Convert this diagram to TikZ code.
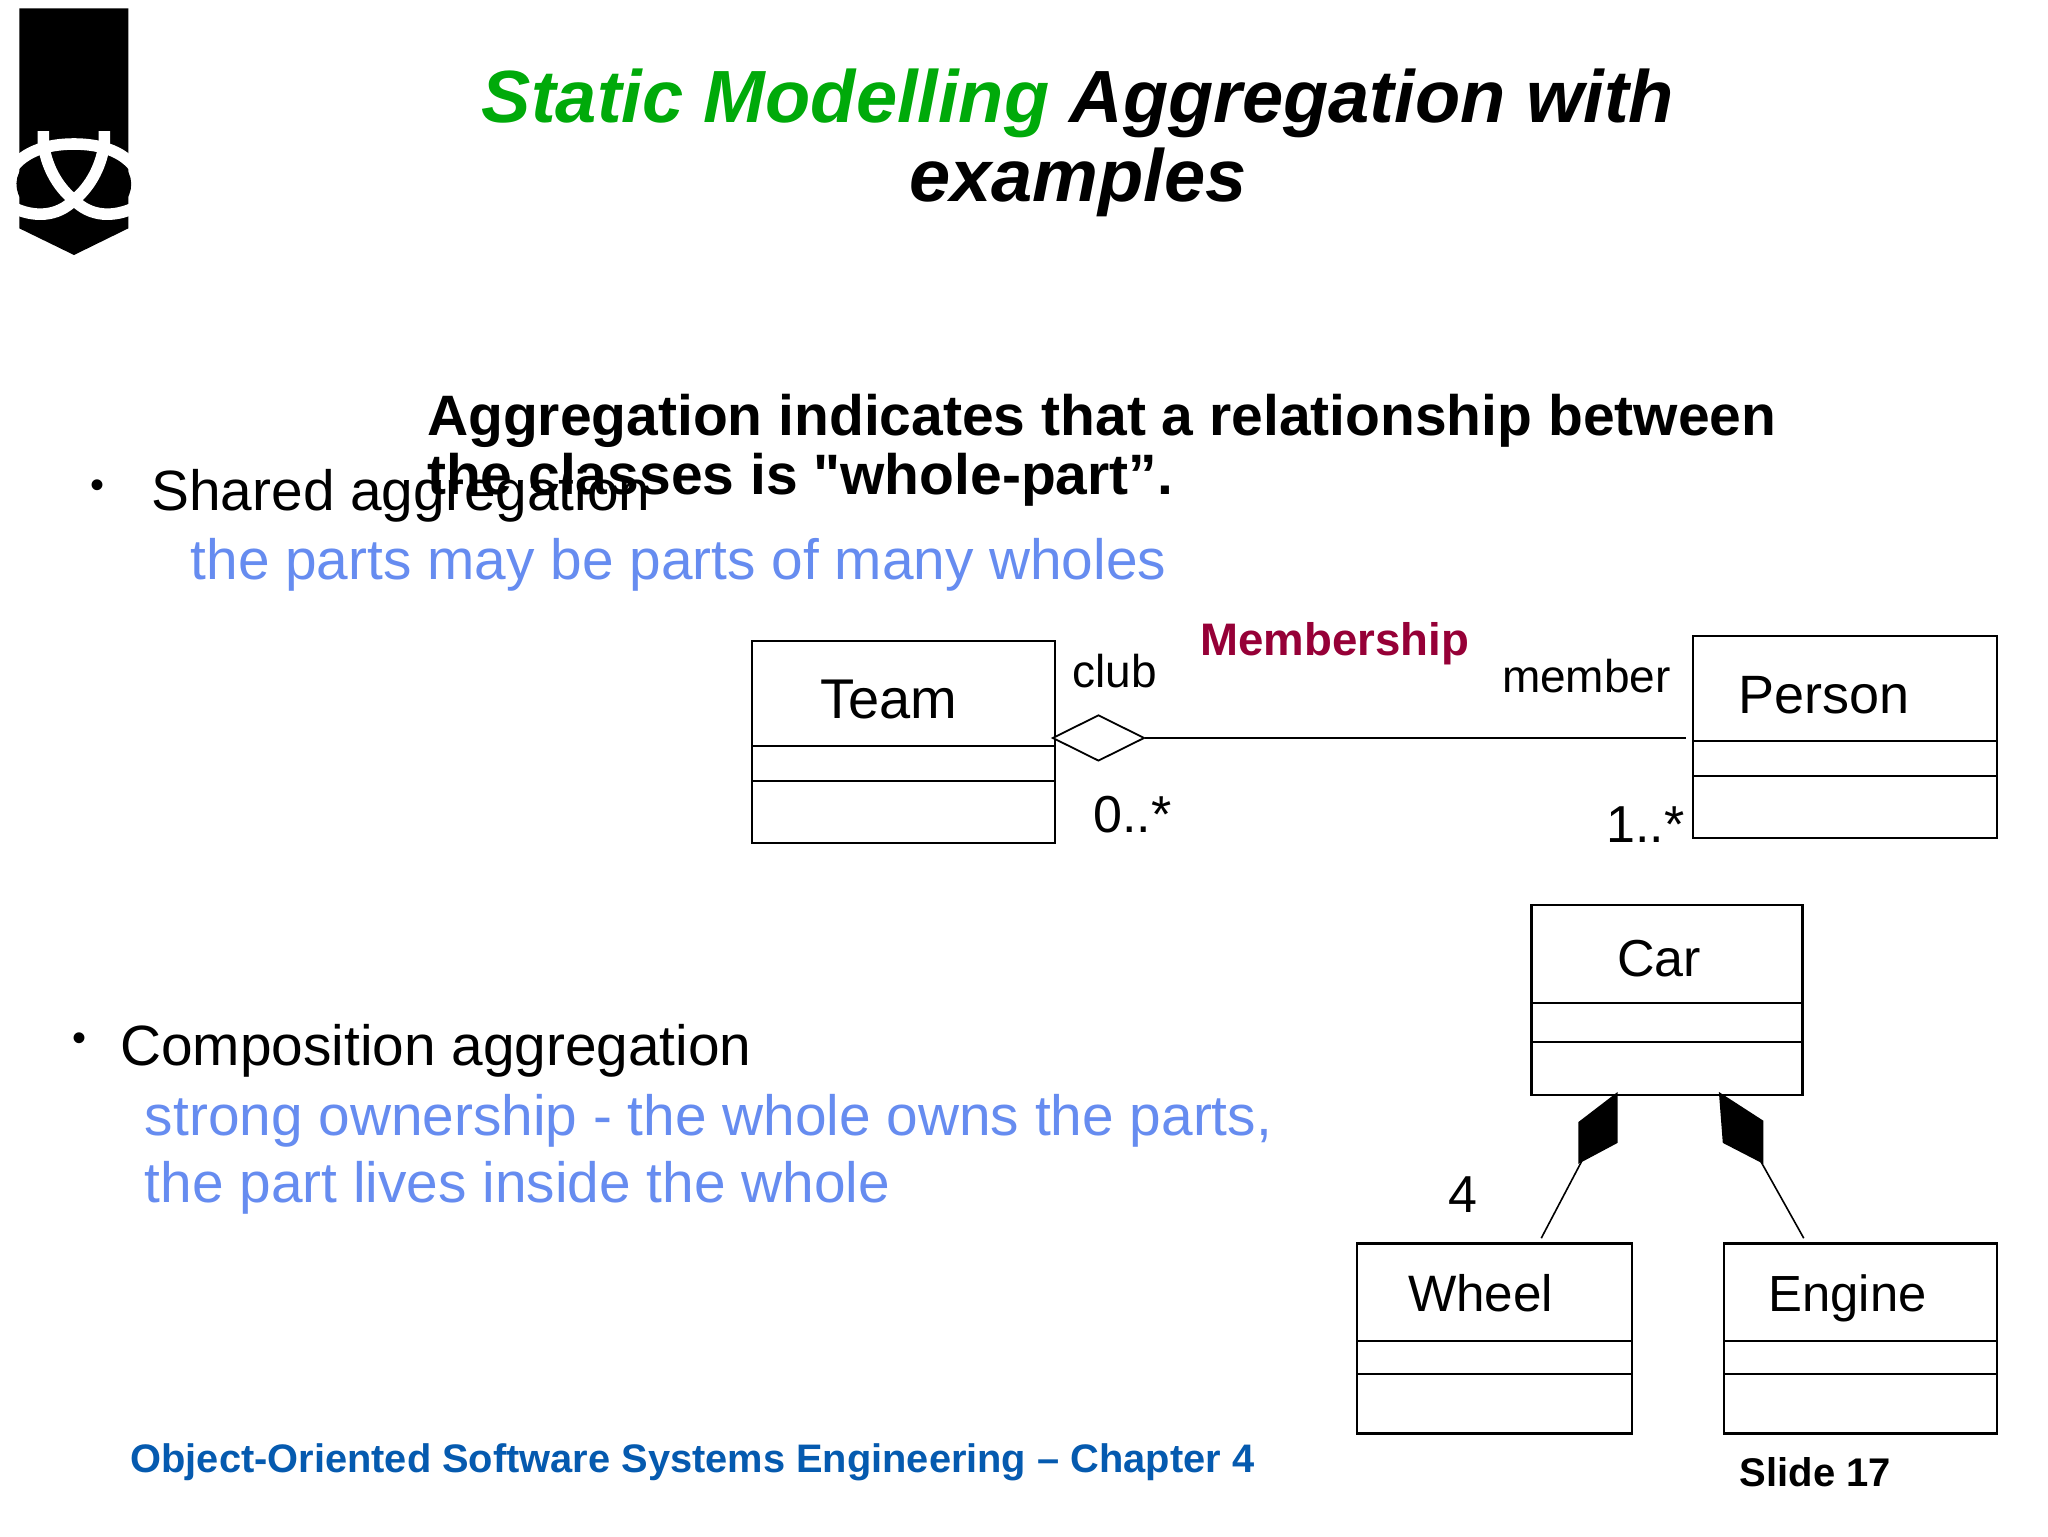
\documentclass[tikz,border=0pt]{standalone}
\usepackage{fontspec}
\setmainfont{Liberation Sans}
\newfontfamily\headfont{Liberation Sans}
\usetikzlibrary{shapes.geometric}
\definecolor{titlegreen}{RGB}{0,170,10}
\definecolor{subblue}{RGB}{102,140,240}
\definecolor{footblue}{RGB}{5,90,175}
\definecolor{memred}{RGB}{150,0,55}
\newcommand{\fs}[1]{\fontsize{#1}{#1}\selectfont}
\tikzset{
 txt/.style={inner sep=0pt,outer sep=0pt,anchor=base west,text depth=0pt},
 classbox/.style={draw=black,line width=1.1pt,inner sep=0pt,outer sep=0pt,anchor=north west,fill=white},
 compline/.style={draw=black,line width=1pt},
 conn/.style={draw=black,line width=0.8pt},
 titletxt/.style={txt,font=\fs{37}\bfseries\itshape},
 headtxt/.style={txt,font=\headfont\fs{28.5}\bfseries},
 bodytxt/.style={txt,font=\fs{28.4}},
 bullettxt/.style={txt,font=\fs{20}},
 subtxt/.style={txt,font=\fs{28.4},text=subblue},
 labeltxt/.style={txt,font=\fs{23}},
 multtxt/.style={txt,font=\fs{26}},
}
\begin{document}
\begin{tikzpicture}[x=0.65306pt,y=-0.65306pt]
\useasboundingbox[fill=white] (0,0) rectangle (1568,1176);
% logo
\begin{scope}[x=0.16667pt,y=-0.16667pt]
\fill[black] (58,25) -- (385,25) -- (385,685) -- (222,765) -- (58,685) -- cycle;
\fill[black] (80,490) .. controls (40,520) and (40,580) .. (75,612) -- (100,612) -- (100,490) -- cycle;
\fill[black] (363,490) .. controls (403,520) and (403,580) .. (368,612) -- (340,612) -- (340,490) -- cycle;
\draw[white,line width=5.8pt] (130,393) -- (130,425) .. controls (135,490) and (170,560) .. (222,600) .. controls (270,650) and (340,655) .. (410,620);
\draw[white,line width=5.8pt] (313,393) -- (313,425) .. controls (308,490) and (273,560) .. (222,600) .. controls (173,650) and (103,655) .. (33,620);
\draw[white,line width=5.8pt] (25,525) .. controls (60,455) and (140,432) .. (222,432) .. controls (303,432) and (383,455) .. (418,525);
\end{scope}
% title
\node[titletxt,text=titlegreen] (t1) at (369,94) {Static Modelling};
\node[titletxt] (t2) at (819,94) {Aggregation with};
\node[titletxt] (t3) at (696,154) {examples};
% heading
\node[headtxt] (h1) at (327,333.5) {Aggregation indicates that a relationship between};
\node[headtxt] (h2) at (327,378.5) {the classes is "whole-part”.};
% bullets
\node[bullettxt] (b1) at (69.5,382) {•};
\node[bodytxt] (s1) at (116,391) {Shared aggregation};
\node[subtxt] (s2) at (146,444) {the parts may be parts of many wholes};
\node[bullettxt] (b2) at (55.5,805) {•};
\node[bodytxt] (c1) at (92,816) {Composition aggregation};
\node[subtxt] (c2) at (111,869) {strong ownership - the whole owns the parts,};
\node[subtxt] (c3) at (111,921) {the part lives inside the whole};
% classes
\node[classbox,minimum width=151.5pt,minimum height=101pt] (team) at (576,491) {};
\draw[compline] (576,571) -- (808,571) (576,598) -- (808,598);
\node[classbox,minimum width=152pt,minimum height=101pt] (person) at (1296,487) {};
\draw[compline] (1296,567.5) -- (1529,567.5) (1296,594) -- (1529,594);
\node[classbox,minimum width=135.5pt,minimum height=95pt] (car) at (1172.5,693) {};
\draw[compline] (1172.5,768) -- (1380,768) (1172.5,797.5) -- (1380,797.5);
\node[classbox,minimum width=137.5pt,minimum height=95pt] (wheel) at (1039,952) {};
\draw[compline] (1039,1027) -- (1250,1027) (1039,1052) -- (1250,1052);
\node[classbox,minimum width=136.5pt,minimum height=95pt] (engine) at (1320,952) {};
\draw[compline] (1320,1027) -- (1529,1027) (1320,1052) -- (1529,1052);
\node[txt,font=\fs{28}] (teamt) at (628,550) {Team};
\node[txt,font=\fs{27}] (persont) at (1331,546) {Person};
\node[txt,font=\fs{26}] (cart) at (1238,748) {Car};
\node[txt,font=\fs{25.6}] (wheelt) at (1078,1004) {Wheel};
\node[txt,font=\fs{25.4}] (enginet) at (1354,1004) {Engine};
% association
\node[diamond,draw=black,line width=0.9pt,fill=white,inner sep=0pt,minimum width=46pt,minimum height=23pt] (dia) at (841,565) {};
\coordinate (perl) at (1291,565);
\draw[conn] (dia.east) -- (perl);
\node[txt,font=\fs{22.8}\bfseries,text=memred] (mem) at (919,502) {Membership};
\node[labeltxt] (club) at (821,526) {club};
\node[labeltxt] (memb) at (1150,530) {member};
\node[multtxt] (m0) at (837,637) {0..*};
\node[multtxt] (m1) at (1230,645) {1..*};
\node[multtxt] (m4) at (1109,928) {4};
% compositions
\fill[black] (1238.5,836) -- (1238.5,875) -- (1208.5,891) -- (1208.5,859) -- cycle;
\fill[black] (1316,836) -- (1350,858) -- (1350,891) -- (1319,875) -- cycle;
\coordinate (wa) at (1211,889);
\coordinate (wb) at (1180,948);
\coordinate (ea) at (1348,889);
\coordinate (eb) at (1381,948);
\draw[conn] (wa) -- (wb);
\draw[conn] (ea) -- (eb);
% footer
\node[txt,font=\fs{19.9}\bfseries,text=footblue] (foot) at (100,1127) {Object-Oriented Software Systems Engineering – Chapter 4};
\node[txt,font=\fs{20}\bfseries] (slide) at (1332,1138) {Slide 17};
\end{tikzpicture}
\end{document}
